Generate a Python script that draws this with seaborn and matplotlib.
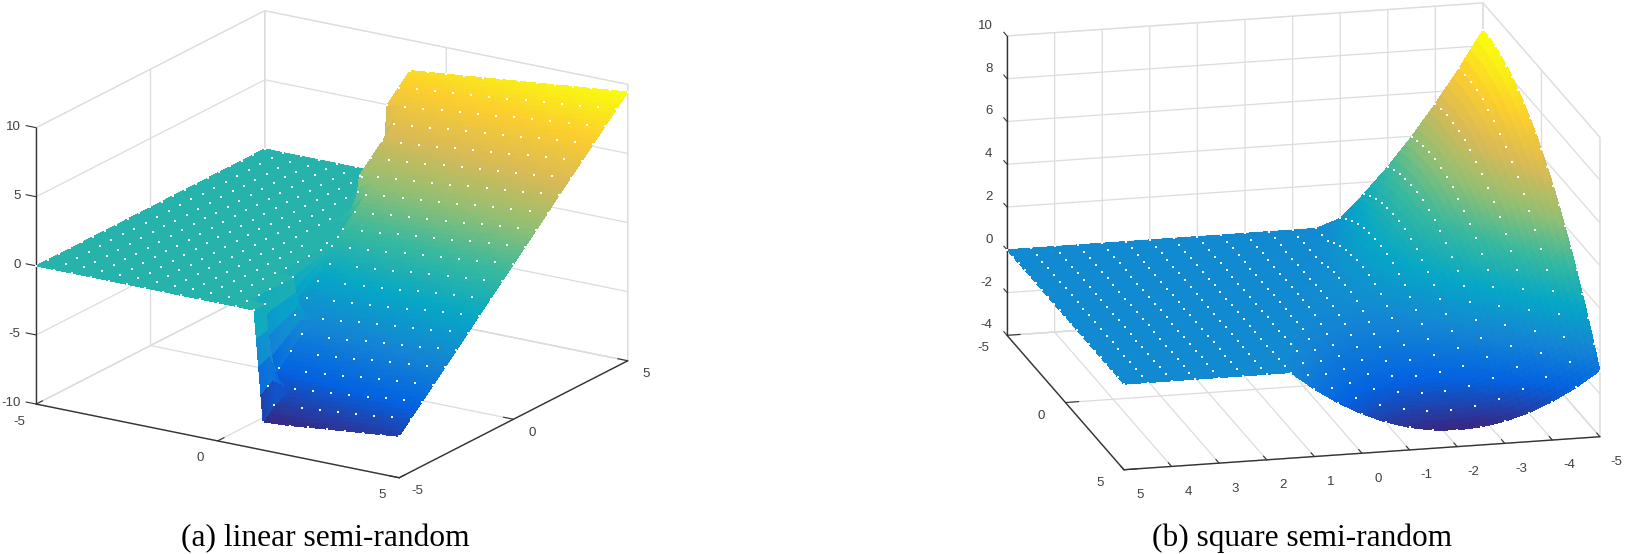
import numpy as np
import matplotlib
matplotlib.use('Agg')
import matplotlib.pyplot as plt
from matplotlib.transforms import ScaledTranslation
import seaborn as sns

# colours of the surface, low to high
surface_colours = ['#352a87', '#0363e1', '#1485d4', '#06a7c6', '#38b99e',
                   '#92bf73', '#d9ba56', '#fcce2e', '#f9fb0e']

grid_y = [-5, -4.5, -4, -3.5, -3, -2.5, -2, -1.5, -1, -0.5, 0, 0.5, 1, 1.5, 2, 2.5, 3, 3.5, 4, 4.5, 5]
grid_x = [-5, -4.5, -4, -3.5, -3, -2.5, -2, -1.5, -1, -0.5, 0, 0.5, 1, 1.5, 2, 2.5, 3, 3.5, 4, 4.5, 5]

# heights, x = -1 ... 5, one row per grid_y. everything left of x = -1 is flat at 0
linear_z = [
    [0, 0, 0, 0, 0, -7.96, -7.83, -7.69, -7.55, -7.41, -7.28, -7.14, -7.00],
    [0, 0, 0, 0, 0, -7.14, -7.01, -6.87, -6.73, -6.59, -6.46, -6.32, -6.18],
    [0, 0, 0, 0, -6.46, -6.32, -6.19, -6.05, -5.91, -5.77, -5.64, -5.50, -5.36],
    [0, 0, 0, 0, -5.63, -5.49, -5.36, -5.22, -5.08, -4.94, -4.81, -4.67, -4.53],
    [0, 0, 0, 0, -4.81, -4.67, -4.54, -4.40, -4.26, -4.12, -3.99, -3.85, -3.71],
    [0, 0, 0, 0, -3.99, -3.85, -3.72, -3.58, -3.44, -3.30, -3.17, -3.03, -2.89],
    [0, 0, 0, -3.31, -3.17, -3.03, -2.90, -2.76, -2.62, -2.48, -2.35, -2.21, -2.07],
    [0, 0, 0, -2.48, -2.34, -2.20, -2.07, -1.93, -1.79, -1.65, -1.52, -1.38, -1.24],
    [0, 0, 0, -1.66, -1.52, -1.38, -1.25, -1.11, -0.97, -0.83, -0.70, -0.56, -0.42],
    [0, 0, 0, -0.84, -0.70, -0.56, -0.43, -0.29, -0.15, -0.01, 0.12, 0.26, 0.40],
    [0, 0, -0.15, -0.01, 0.13, 0.27, 0.40, 0.54, 0.68, 0.82, 0.95, 1.09, 1.23],
    [0, 0, 0.67, 0.81, 0.95, 1.09, 1.22, 1.36, 1.50, 1.64, 1.77, 1.91, 2.05],
    [0, 0, 1.49, 1.63, 1.77, 1.91, 2.04, 2.18, 2.32, 2.46, 2.59, 2.73, 2.87],
    [0, 0, 2.31, 2.45, 2.59, 2.73, 2.86, 3.00, 3.14, 3.28, 3.41, 3.55, 3.69],
    [0, 3.01, 3.14, 3.28, 3.42, 3.56, 3.69, 3.83, 3.97, 4.11, 4.24, 4.38, 4.52],
    [0, 3.83, 3.96, 4.10, 4.24, 4.38, 4.51, 4.65, 4.79, 4.93, 5.06, 5.20, 5.34],
    [0, 4.65, 4.78, 4.92, 5.06, 5.20, 5.33, 5.47, 5.61, 5.75, 5.88, 6.02, 6.16],
    [0, 5.47, 5.60, 5.74, 5.88, 6.02, 6.15, 6.29, 6.43, 6.57, 6.70, 6.84, 6.98],
    [6.16, 6.30, 6.43, 6.57, 6.71, 6.85, 6.98, 7.12, 7.26, 7.40, 7.53, 7.67, 7.81],
    [6.98, 7.12, 7.25, 7.39, 7.53, 7.67, 7.80, 7.94, 8.08, 8.22, 8.35, 8.49, 8.63],
    [7.80, 7.94, 8.07, 8.21, 8.35, 8.49, 8.62, 8.76, 8.90, 9.04, 9.17, 9.31, 9.45],
]

# heights, x = -5 ... 1.5, one row per grid_y. everything right of x = 1.5 is flat at 0
square_z = [
    [8.74, 7.03, 5.44, 3.98, 2.65, 1.46, 0.39, 0, 0, 0, 0, 0, 0, 0],
    [8.71, 7.04, 5.51, 4.10, 2.82, 1.68, 0.66, 0, 0, 0, 0, 0, 0, 0],
    [8.63, 7.02, 5.52, 4.17, 2.95, 1.85, 0.88, 0.05, 0, 0, 0, 0, 0, 0],
    [8.51, 6.93, 5.50, 4.19, 3.02, 1.97, 1.06, 0.27, 0, 0, 0, 0, 0, 0],
    [8.32, 6.82, 5.43, 4.17, 3.05, 2.05, 1.18, 0.45, 0, 0, 0, 0, 0, 0],
    [8.11, 6.64, 5.31, 4.10, 3.03, 2.08, 1.26, 0.58, 0.03, 0, 0, 0, 0, 0],
    [7.83, 6.42, 5.14, 3.98, 2.96, 2.06, 1.30, 0.66, 0.16, 0, 0, 0, 0, 0],
    [7.52, 6.15, 4.93, 3.82, 2.84, 2.00, 1.28, 0.70, 0.24, 0, 0, 0, 0, 0],
    [7.15, 5.84, 4.66, 3.60, 2.68, 1.88, 1.22, 0.69, 0.28, 0.01, 0, 0, 0, 0],
    [6.75, 5.48, 4.35, 3.35, 2.47, 1.73, 1.11, 0.63, 0.27, 0.05, 0, 0, 0, 0],
    [6.29, 5.07, 3.98, 3.04, 2.21, 1.52, 0.95, 0.52, 0.22, 0.04, 0, 0, 0, 0],
    [5.78, 4.61, 3.58, 2.68, 1.90, 1.27, 0.75, 0.37, 0.12, -0.01, 0, 0, 0, 0],
    [5.23, 4.11, 3.13, 2.28, 1.56, 0.96, 0.50, 0.16, -0.04, -0.11, -0.05, 0, 0, 0],
    [4.62, 3.56, 2.63, 1.82, 1.15, 0.61, 0.20, -0.09, -0.24, -0.25, -0.15, 0, 0, 0],
    [3.97, 2.97, 2.08, 1.33, 0.70, 0.22, -0.14, -0.38, -0.48, -0.45, -0.29, -0.01, 0, 0],
    [3.27, 2.31, 1.48, 0.78, 0.21, -0.23, -0.54, -0.72, -0.77, -0.70, -0.49, -0.15, 0, 0],
    [2.54, 1.62, 0.84, 0.20, -0.33, -0.72, -0.98, -1.12, -1.11, -0.98, -0.73, -0.34, 0, 0],
    [1.75, 0.88, 0.15, -0.45, -0.92, -1.26, -1.47, -1.55, -1.50, -1.32, -1.02, -0.57, -0.01, 0],
    [0.91, 0.10, -0.58, -1.13, -1.56, -1.85, -2.01, -2.04, -1.94, -1.70, -1.34, -0.86, -0.24, 0],
    [0.02, -0.74, -1.37, -1.87, -2.24, -2.48, -2.59, -2.57, -2.42, -2.14, -1.73, -1.19, -0.52, 0],
    [-0.91, -1.62, -2.20, -2.65, -2.97, -3.16, -3.22, -3.15, -2.95, -2.62, -2.16, -1.57, -0.85, 0],
]

sns.set_theme(style='white')
plt.rcParams['font.family'] = ['Liberation Sans', 'DejaVu Sans']
plt.rcParams['axes.unicode_minus'] = False

parula = sns.blend_palette(surface_colours, as_cmap=True)
W, H = 1627, 554
fig = plt.figure(figsize=(W / 100, H / 100), dpi=100)


def make_axes(left, bottom, size, elev, azim, box, zoom, zlim, xticks, yticks, zticks, z_tickdir):
    ax = fig.add_axes([left / W, bottom / H, size / W, size / H], projection='3d',
                      proj_type='ortho', computed_zorder=False)
    ax.view_init(elev=elev, azim=azim)
    ax.set_box_aspect(box, zoom=zoom)
    ax.patch.set_visible(False)
    ax.set_xlim(-5, 5)
    ax.set_ylim(-5, 5)
    ax.set_zlim(*zlim)
    ax.set_xticks(xticks)
    ax.set_yticks(yticks)
    ax.set_zticks(zticks)
    for axis in (ax.xaxis, ax.yaxis, ax.zaxis):
        axis.pane.set_facecolor('white')
        axis.pane.set_edgecolor('#dcdcdc')
        axis.line.set_color('#333333')
        axis.line.set_linewidth(1.0)
        axis._axinfo['grid'].update(color='#dcdcdc', linewidth=0.9)
        axis._axinfo['tick'].update(inward_factor=0.0, outward_factor=0.35, color='#333333')
        axis._axinfo['tick']['linewidth'] = {True: 0.8, False: 0.8}
    ax.tick_params(labelsize=9.5, labelcolor='#404040', color='#333333')
    # the z ticks lean along another floor edge than matplotlib picks by default
    ax.zaxis.set_ticks_position('lower')
    ax.zaxis._get_tickdir = lambda pos: z_tickdir
    return ax


def nudge_labels(ax, axis, dx, dy, ha='center'):
    # mplot3d only moves tick labels along the tick, so shift them by some pixels on top of that
    shift = ScaledTranslation(dx / 100, dy / 100, fig.dpi_scale_trans)
    for tick in axis.get_major_ticks():
        tick.label1.set_ha(ha)
        tick.label1.set_transform(ax.transData + shift)
        tick.label1.set_transform = lambda *args: None


def split_cells(a, n=4):
    # matlab "shading interp" look: cut each cell in n x n so the colour runs across it.
    # the read values stay the ones in the tables above
    for axis in (0, 1):
        idx = np.arange(a.shape[axis])
        fine = np.linspace(0, idx[-1], idx[-1] * n + 1)
        a = np.apply_along_axis(lambda r: np.interp(fine, idx, r), axis, a)
    return a


def draw_surface(ax, X, Y, z, dot_mask=None):
    ax.plot_surface(split_cells(X), split_cells(Y), split_cells(z), cmap=parula,
                    rstride=1, cstride=1, linewidth=0, antialiased=False, shade=False, zorder=1)
    keep = np.ones(z.shape, bool) if dot_mask is None else dot_mask(X, Y, z)
    ax.scatter(X[keep], Y[keep], z[keep], c='white', s=0.9, marker='s', linewidths=0,
               depthshade=False, zorder=2)


# panel (a)
ax_a = make_axes(-1.8, -24, 650, 18.8, -57.8, (429, 429, 292), 1.0055, (-10, 10),
                 [-5, 0, 5], [-5, 0, 5], [-10, -5, 0, 5, 10], 0)
z_a = np.hstack([np.zeros((len(grid_y), 8)), np.array(linear_z)])
X_a, Y_a = np.meshgrid(grid_x, grid_y)
# the step is steeper than one grid cell, so close it up a bit in each row
for i in range(len(grid_y)):
    k = np.nonzero(z_a[i])[0][0]
    if grid_y[i] < 0:
        X_a[i, k] = X_a[i, k] - 0.25
    else:
        X_a[i, k - 1] = X_a[i, k] - 0.15
# flat part behind the ramp is hidden
draw_surface(ax_a, X_a, Y_a, z_a, lambda x, y, z: (z != 0) | (x + 0.485 * y < 0.2))
ax_a.tick_params(axis='x', pad=6)
ax_a.tick_params(axis='y', pad=5)
ax_a.tick_params(axis='z', pad=3)
nudge_labels(ax_a, ax_a.xaxis, -4, 11)
nudge_labels(ax_a, ax_a.yaxis, -1, 11)
nudge_labels(ax_a, ax_a.zaxis, 11, 9, ha='right')

# panel (b)
ax_b = make_axes(924.5, -61.3, 738, 16.4, 76.2, (490, 490, 312), 1.0, (-4, 10),
                 list(range(-5, 6)), [-5, 0, 5], [-4, -2, 0, 2, 4, 6, 8, 10], 1)
z_b = np.hstack([np.array(square_z), np.zeros((len(grid_y), 7))])
X_b, Y_b = np.meshgrid(grid_x, grid_y)
draw_surface(ax_b, X_b, Y_b, z_b)
ax_b.tick_params(axis='x', pad=5)
ax_b.tick_params(axis='y', pad=7)
ax_b.tick_params(axis='z', pad=3)
nudge_labels(ax_b, ax_b.xaxis, 11, 1)
nudge_labels(ax_b, ax_b.yaxis, 2, 11)
nudge_labels(ax_b, ax_b.zaxis, 9, 12, ha='right')

fig.text(181 / W, 1 - 546 / H, '(a) linear semi-random', family='Liberation Serif',
         fontsize=22.7, color='black', va='baseline')
fig.text(1152 / W, 1 - 546 / H, '(b) square semi-random', family='Liberation Serif',
         fontsize=22.6, color='black', va='baseline')

fig.savefig('out.png', dpi=100)
